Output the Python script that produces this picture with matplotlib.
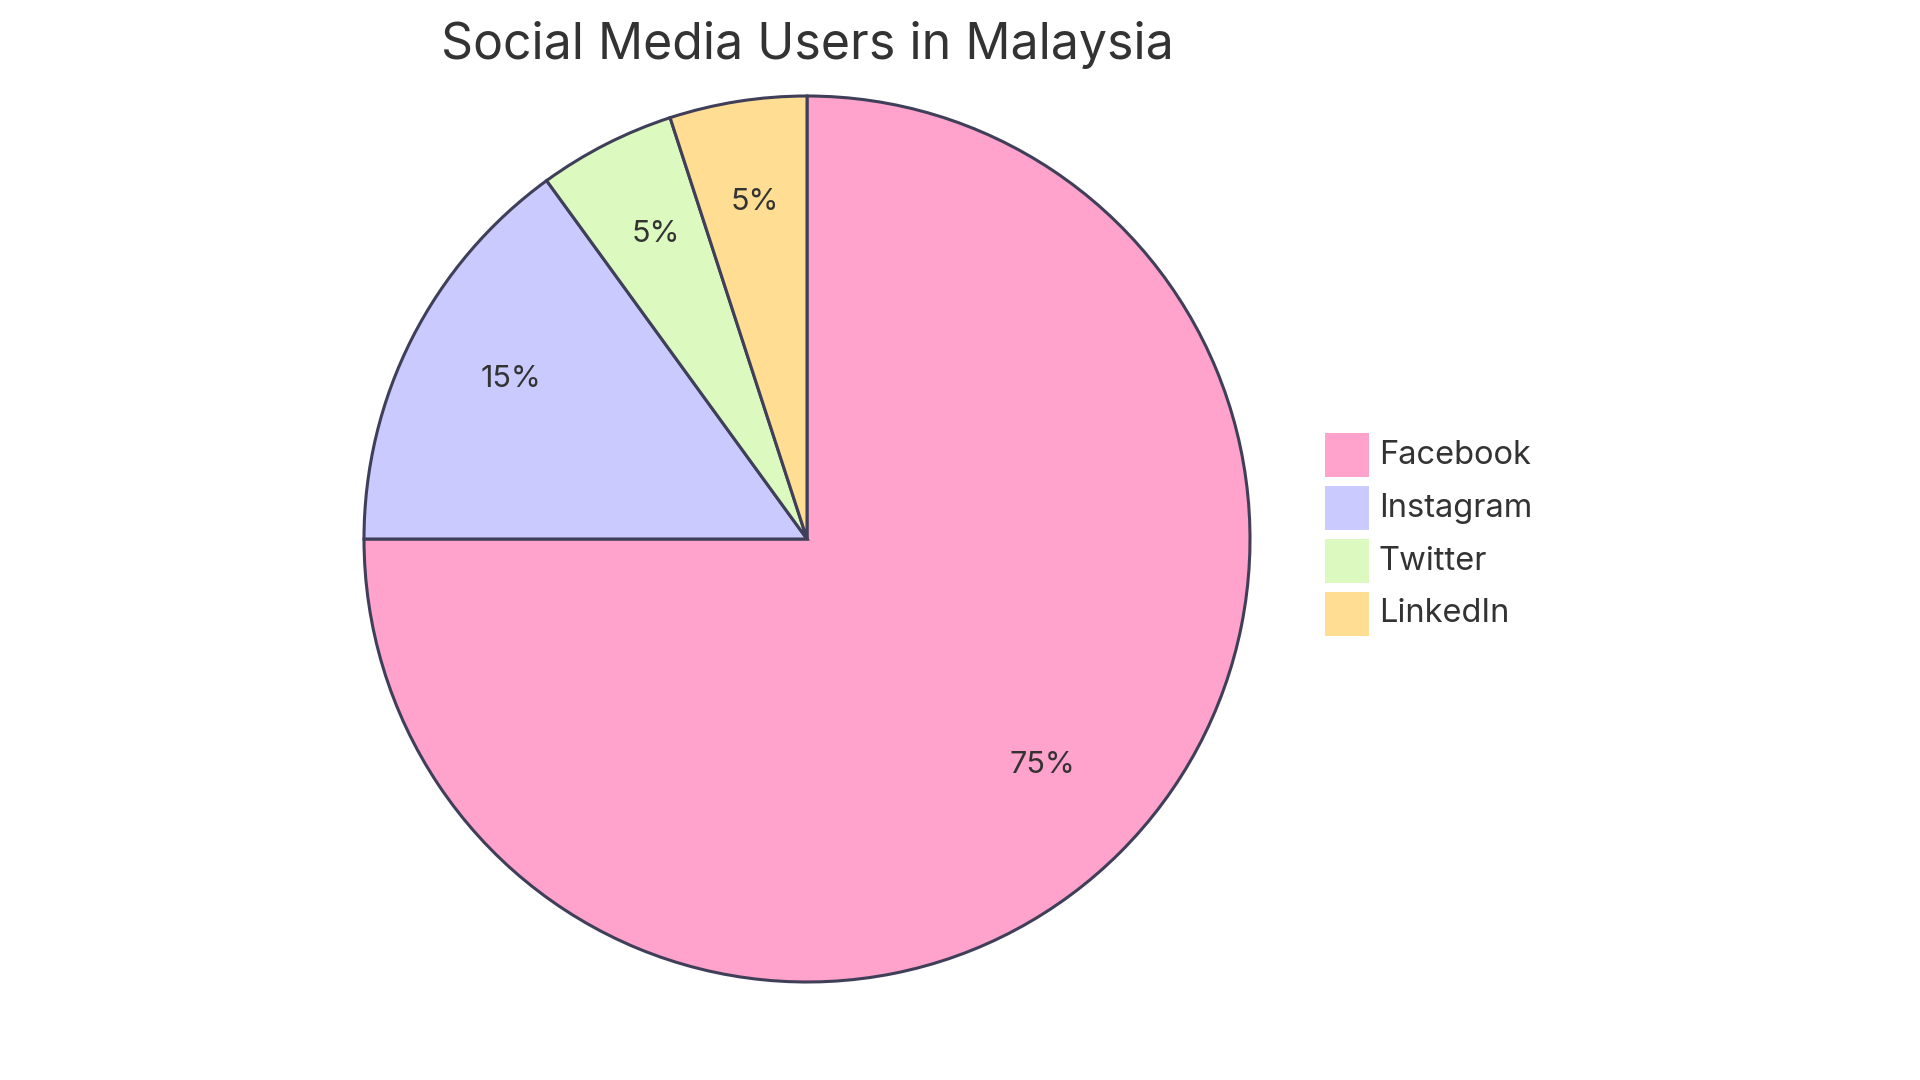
import matplotlib.pyplot as plt
from matplotlib.patches import Rectangle

plt.rcParams['font.family'] = ['Inter', 'DejaVu Sans']

labels = ["Facebook", "Instagram", "Twitter", "LinkedIn"]
values = [75, 15, 5, 5]
colors = ["#FFA2CC", "#CACAFF", "#DCFABF", "#FFDE94"]
edge = "#3F3F5A"
text_color = "#333333"

W, H = 1920, 1080
fig = plt.figure(figsize=(19.2, 10.8), dpi=100)
# pie centred at about (807, 539) px with radius ~443 px
cx, cy, r = 807 / W, 1 - 539 / H, 443
ax = fig.add_axes([cx - r / W, cy - r / H, 2 * r / W, 2 * r / H])

wedges, texts, autotexts = ax.pie(
    values, colors=colors, startangle=90, counterclock=False,
    autopct="%1.0f%%", pctdistance=0.75,
    wedgeprops=dict(edgecolor=edge, linewidth=2.2),
    textprops=dict(color=text_color, fontsize=22),
)
for t in autotexts:
    x, y = t.get_position()
    t.set_position((x, y + 0.02))
ax.set_xlim(-1, 1)
ax.set_ylim(-1, 1)
ax.set_aspect("equal")

fig.text(cx, 1 - 45 / H, "Social Media Users in Malaysia", ha="center", va="center",
         fontsize=36, color=text_color)

# legend drawn by hand: 44 px squares, 53 px pitch
for i, (lab, c) in enumerate(zip(labels, colors)):
    top = 433 + i * 53
    fig.add_artist(Rectangle((1325 / W, 1 - (top + 44) / H), 44 / W, 44 / H,
                             transform=fig.transFigure, facecolor=c, edgecolor="none"))
    fig.text(1379 / W, 1 - (top + 22) / H, lab, ha="left", va="center",
             fontsize=23.5, color=text_color)

fig.savefig("out.png", dpi=100)
